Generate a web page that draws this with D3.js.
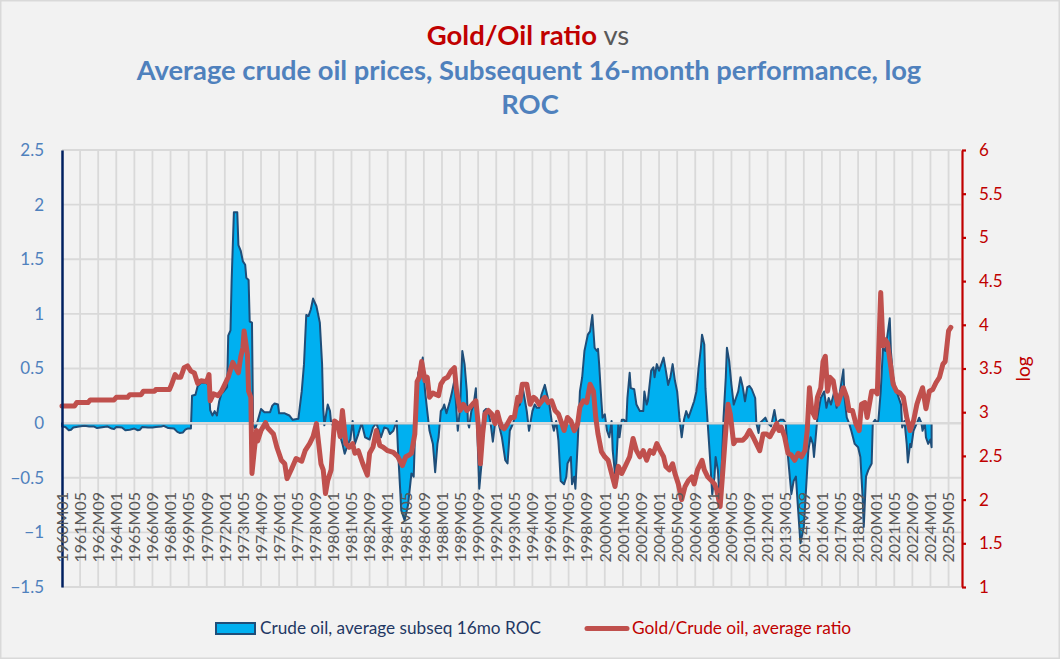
<!DOCTYPE html>
<html><head><meta charset="utf-8">
<script src="https://cdn.jsdelivr.net/npm/d3@7/dist/d3.min.js"></script>
<style>
body{margin:0;background:#F2F2F2;}
svg{display:block;font-family:Lato,"Liberation Sans",sans-serif;}
</style>
</head><body>
<svg id="chart" width="1060" height="659"></svg>
<script>
// ---- Category (tick) labels: every 16 months from 1960M01 ----
const tickLabels = ["1960M01","1961M05","1962M09","1964M01","1965M05","1966M09","1968M01","1969M05","1970M09","1972M01",
"1973M05","1974M09","1976M01","1977M05","1978M09","1980M01","1981M05","1982M09","1984M01","1985M05",
"1986M09","1988M01","1989M05","1990M09","1992M01","1993M05","1994M09","1996M01","1997M05","1998M09",
"2000M01","2001M05","2002M09","2004M01","2005M05","2006M09","2008M01","2009M05","2010M09","2012M01",
"2013M05","2014M09","2016M01","2017M05","2018M09","2020M01","2021M05","2022M09","2024M01","2025M05"];

// ---- Series 1: crude oil, average subsequent 16-month log ROC (months since 1960M01, value) ----
const rocMonth = [0,3,6,8,10,15,20,24,28,31,34,40,44,46,48,53,56,60,64,67,69,71,76,80,83,88,90,94,99,102,104,107,109,111,114,
115,118,120,123,128,130,131,133,135,137,139,141,143,146,147,149,150,152,155,156,158,160,162,163,165,166,168,169,171,173,176,179,184,186,188,191,192,197,201,204,209,
212,214,216,218,220,222,225,228,230,231,232,234,235,237,238,241,244,248,250,253,255,257,259,262,265,268,272,275,278,282,285,288,290,293,296,297,299,300,303,306,309,311,
313,315,318,319,321,323,325,328,330,332,333,335,337,338,340,343,345,347,350,352,354,356,358,359,360,362,364,366,367,369,371,373,375,377,379,381,383,384,386,389,392,394,396,399,
402,405,407,409,411,413,416,418,420,422,424,427,429,431,433,435,437,439,441,444,446,447,450,451,453,454,456,458,460,462,465,467,469,471,473,474,475,477,478,480,482,484,486,487,489,490,492,493,495,497,499,
500,502,503,506,508,511,514,515,517,518,521,523,524,526,528,530,532,534,536,538,540,542,544,546,548,550,552,554,557,559,561,563,565,566,568,569,571,573,575,577,578,580,581,583,585,587,588,590,592,594,596,598,
600,602,604,606,608,610,613,614,616,617,620,622,624,627,630,632,635,638,640,642,645,647,649,651,653,656,658,660,662,664,665,667,668,670,671,674,676,678,680,683,685,688,691,692,694,696,698,
701,704,706,708,709,711,713,716,717,719,721,722,724,726,728,730,732,733,735,737,739,742,743,745,747,748,750,751,753,756,758,760,761,763,764,766,768,769];
const rocValue = [-0.03,-0.035,-0.065,-0.06,-0.04,-0.03,-0.025,-0.03,-0.03,-0.045,-0.04,-0.03,-0.05,-0.055,-0.035,-0.04,-0.065,-0.06,-0.05,-0.065,-0.06,-0.035,-0.04,-0.04,-0.035,-0.03,-0.025,-0.045,-0.05,-0.08,-0.09,-0.085,-0.06,-0.05,-0.05,
0.25,0.26,0.34,0.37,0.37,0.33,0.12,0.07,0.11,0.07,0.2,0.27,0.29,0.33,0.8,0.85,1.3,1.93,1.93,1.63,1.58,1.48,1.45,1.33,1.31,0.93,0.92,-0.02,-0.05,0.02,0.13,0.10,0.10,0.16,0.18,0.17,0.09,0.09,0.07,0.03,0.04,
0.29,0.54,0.99,0.98,1.04,1.14,1.07,0.92,0.54,0.13,-0.02,0.11,0.17,0.11,0.0,-0.04,-0.05,-0.19,-0.28,-0.19,-0.15,0.02,-0.19,-0.10,0.0,-0.13,-0.15,-0.04,0.0,-0.13,-0.04,-0.05,-0.10,-0.07,0.02,-0.22,-0.60,-0.80,-0.89,-0.75,-0.46,-0.49,
0.17,0.46,0.54,0.60,0.30,0.11,-0.07,-0.19,-0.45,-0.19,-0.13,0.11,0.14,0.17,0.09,0.20,0.29,0.39,-0.07,0.14,0.66,0.54,0.29,0.0,-0.04,0.11,0.17,0.32,0.0,-0.60,-0.37,0.11,0.13,0.11,0.0,-0.17,0.0,0.05,0.0,-0.13,-0.34,-0.37,-0.07,0.0,
0.14,0.17,0.35,0.23,0.11,-0.07,0.11,0.17,0.14,0.14,0.26,0.35,0.26,0.17,0.02,-0.07,0.02,-0.16,-0.53,-0.56,-0.49,-0.37,-0.31,-0.56,-0.49,-0.60,-0.19,0.29,0.42,0.66,0.81,0.84,0.99,0.69,0.66,0.68,0.54,0.20,0.05,0.08,-0.07,-0.13,0.02,-0.25,-0.46,-0.40,0.0,-0.13,0.03,0.03,0.0,
0.23,0.46,0.32,0.31,0.17,0.11,0.11,0.29,0.17,0.20,0.48,0.51,0.42,0.54,0.48,0.54,0.60,0.48,0.35,0.42,0.54,0.39,0.29,0.05,-0.13,0.03,0.11,0.05,0.14,0.20,0.29,0.51,0.69,0.81,0.72,0.32,0.0,-0.31,-0.65,-0.49,-0.31,-0.43,-0.60,-0.52,0.05,0.42,0.69,0.57,0.35,0.17,0.23,0.29,
0.42,0.33,0.20,0.33,0.34,0.31,0.23,0.0,-0.09,0.0,0.03,0.05,0.0,-0.03,0.12,0.0,0.03,0.03,0.0,-0.31,-0.65,-0.53,-0.49,-0.80,-1.1,-0.95,-0.60,-0.25,-0.13,-0.19,-0.31,-0.07,0.05,0.17,0.23,0.29,0.14,0.23,0.17,0.29,0.14,0.29,0.49,0.23,0.05,0.0,-0.07,
-0.19,-0.22,-0.31,-0.68,-0.95,-0.49,-0.43,-0.37,0.0,0.03,0.0,0.03,0.29,0.69,0.66,0.81,0.96,0.66,0.42,0.32,0.26,0.17,-0.04,0.02,-0.19,-0.36,-0.19,-0.22,-0.07,0.0,0.05,0.0,-0.07,0.0,-0.13,-0.19,-0.15,-0.22];

// ---- Series 2: gold / crude oil, average ratio (months since 1960M01, value) ----
const ratioMonth = [0,11,13,23,25,46,48,58,60,70,72,82,83,95,97,100,102,105,108,111,114,117,120,123,128,130,131,134,138,141,144,147,151,154,156,158,160,161,164,165,167,168,170,172,173,176,180,182,187,190,194,197,199,
203,207,212,215,219,222,225,227,229,231,233,235,238,241,244,246,248,251,254,257,259,262,266,270,272,275,278,281,284,288,293,297,301,304,307,309,312,314,316,318,319,321,323,325,328,331,333,335,338,341,344,347,349,
352,355,358,361,363,366,368,370,372,374,377,380,383,385,387,389,391,394,397,400,403,405,407,411,414,417,419,422,427,430,433,436,439,442,444,447,450,453,456,458,461,464,467,470,472,474,477,480,483,486,489,492,495,498,
502,505,508,511,514,517,520,523,526,529,532,534,537,540,542,545,548,551,554,557,559,562,566,568,571,574,577,579,582,584,587,589,591,594,596,599,602,605,608,611,614,617,620,623,626,629,632,634,636,639,642,645,648,
651,654,657,659,661,663,666,668,671,673,675,677,679,682,684,686,689,691,694,696,699,702,705,707,710,712,716,719,721,723,724,726,728,730,733,735,738,741,744,747,750,753,756,758,761,764,767,770,773,776,779,781,784,786];
const ratioValue = [3.07,3.07,3.11,3.11,3.14,3.14,3.17,3.17,3.20,3.20,3.24,3.24,3.26,3.26,3.32,3.43,3.40,3.40,3.51,3.53,3.47,3.45,3.33,3.36,3.35,3.43,3.13,3.21,3.19,3.24,3.32,3.40,3.57,3.50,3.45,3.63,3.74,3.93,3.66,3.24,3.17,2.30,2.56,2.79,2.67,2.79,2.88,2.82,2.75,2.60,2.45,2.41,2.24,
2.35,2.47,2.44,2.56,2.64,2.72,2.87,2.64,2.41,2.34,2.07,2.22,2.34,2.90,2.87,2.72,3.02,2.64,2.60,2.64,2.53,2.56,2.41,2.28,2.53,2.60,2.79,2.62,2.60,2.56,2.54,2.49,2.39,2.49,2.51,2.53,2.75,3.35,3.40,3.58,3.51,3.36,3.40,3.17,3.22,3.20,3.19,3.32,3.38,3.40,3.47,3.51,3.24,
3.02,3.09,3.02,3.06,3.09,3.13,2.87,2.41,2.75,2.98,3.02,2.98,2.87,3.00,2.90,2.83,2.81,2.87,2.94,2.94,3.17,3.13,3.32,3.32,3.09,3.17,3.15,3.09,3.17,3.11,3.13,3.02,2.98,2.87,2.79,2.94,2.90,2.79,2.87,3.06,3.13,3.11,3.32,3.24,2.94,2.75,2.55,2.49,2.45,2.30,2.15,2.38,2.30,2.38,
2.49,2.70,2.56,2.49,2.56,2.45,2.56,2.53,2.64,2.56,2.49,2.38,2.34,2.41,2.30,2.18,2.00,2.15,2.22,2.26,2.18,2.34,2.45,2.34,2.26,2.22,2.18,2.11,1.92,2.26,2.79,3.09,2.98,2.64,2.68,2.68,2.68,2.72,2.79,2.72,2.64,2.56,2.75,2.75,2.72,2.79,2.87,2.79,2.83,2.72,2.53,2.51,2.45,
2.53,2.49,2.56,2.79,3.28,3.02,2.94,3.17,3.28,3.58,3.64,3.24,3.40,3.36,3.21,3.09,3.21,3.28,3.17,3.02,3.02,2.87,2.79,3.09,3.11,2.94,3.24,3.24,3.21,3.99,4.37,3.76,3.83,3.79,3.51,3.32,3.24,3.22,3.17,2.94,2.79,2.90,3.09,3.17,3.28,3.04,3.24,3.26,3.34,3.40,3.55,3.58,3.93,3.97];

const leftTicks = [-1.5,-1,-0.5,0,0.5,1,1.5,2,2.5];
const rightTicks = [1,1.5,2,2.5,3,3.5,4,4.5,5,5.5,6];
const seriesNames = ["Crude oil, average subseq 16mo ROC","Gold/Crude oil, average ratio"];

// ---- drawing ----
const svg = d3.select("#chart");
const W = 1060, H = 659;
const plot = {left:62, right:961, top:150, bottom:587};
const monthIndex = s => (+s.slice(0,4) - 1960) * 12 + (+s.slice(5) - 1);

const x = d3.scaleLinear().domain([0, 795]).range([plot.left, plot.right]);
const yL = d3.scaleLinear().domain([-1.5, 2.5]).range([plot.bottom, plot.top]);
const yR = d3.scaleLinear().domain([1, 6]).range([plot.bottom, plot.top]);

svg.append("rect").attr("x",0.75).attr("y",0.75).attr("width",W-1.5).attr("height",H-1.5)
  .attr("fill","#F2F2F2").attr("stroke","#D9D9D9").attr("stroke-width",1.5);

// gridlines
const grid = svg.append("g");
grid.selectAll("line.h").data(leftTicks).join("line")
  .attr("x1",plot.left).attr("x2",plot.right)
  .attr("y1",d=>yL(d)).attr("y2",d=>yL(d))
  .attr("stroke","#D9D9D9").attr("stroke-width",1.8);
grid.selectAll("line.v").data(tickLabels.slice(1)).join("line")
  .attr("x1",d=>x(monthIndex(d))).attr("x2",d=>x(monthIndex(d)))
  .attr("y1",plot.top).attr("y2",plot.bottom)
  .attr("stroke","#D9D9D9").attr("stroke-width",1.8);

// area series
const rocData = rocMonth.map((m,i)=>({m, v:rocValue[i]}));
const area = d3.area().x(d=>x(d.m)).y0(yL(0)).y1(d=>yL(d.v));
svg.append("path").datum(rocData).attr("d",area)
  .attr("fill","#00B0F0").attr("stroke","#1F4E79").attr("stroke-width",2).attr("stroke-linejoin","round");

// zero (category) axis line
svg.append("line").attr("x1",plot.left).attr("x2",plot.right).attr("y1",yL(0)).attr("y2",yL(0))
  .attr("stroke","#D9D9D9").attr("stroke-width",2.5);

// ratio line
const ratioData = ratioMonth.map((m,i)=>({m, v:ratioValue[i]}));
const line = d3.line().x(d=>x(d.m)).y(d=>yR(d.v));
svg.append("path").datum(ratioData).attr("d",line)
  .attr("fill","none").attr("stroke","#C0504D").attr("stroke-width",5)
  .attr("stroke-linejoin","round").attr("stroke-linecap","round");

// left axis
const gL = svg.append("g").attr("transform",`translate(${plot.left},0)`)
  .call(d3.axisLeft(yL).tickValues(leftTicks).tickSize(0).tickPadding(18).tickFormat(d3.format("")));
gL.select(".domain").attr("stroke","#002060").attr("stroke-width",2.5);
gL.selectAll("text").attr("fill","#4F81BD").attr("font-size",17).attr("font-family","Lato");

// right axis
const gR = svg.append("g").attr("transform",`translate(${plot.right+1},0)`)
  .call(d3.axisRight(yR).tickValues(rightTicks).tickSizeInner(4).tickSizeOuter(0).tickPadding(13).tickFormat(d3.format("")));
gR.select(".domain").attr("stroke","#C00000").attr("stroke-width",2.2);
gR.selectAll(".tick line").attr("stroke","#C00000").attr("stroke-width",2.2);
gR.selectAll("text").attr("fill","#C00000").attr("font-size",17).attr("font-family","Lato");

// x category labels (rotated, inside plot)
svg.append("g").selectAll("text").data(tickLabels).join("text")
  .attr("transform",d=>`translate(${x(monthIndex(d))},492) rotate(-90)`)
  .attr("text-anchor","end").attr("dy","0.36em")
  .attr("fill","#595959").attr("font-size",16).text(d=>d);

// right axis title
svg.append("text").attr("transform","translate(1023,369) rotate(-90)")
  .attr("text-anchor","middle").attr("dy","0.35em")
  .attr("fill","#C00000").attr("font-size",19).text("log");

// title
const t1 = svg.append("text").attr("x",528).attr("y",45).attr("text-anchor","middle").attr("font-size",27.5);
t1.append("tspan").attr("fill","#C00000").attr("font-weight","bold").text("Gold/Oil ratio");
t1.append("tspan").attr("fill","#595959").text(" vs");
svg.append("text").attr("x",529).attr("y",80).attr("text-anchor","middle").attr("font-size",27.3)
  .attr("font-weight","bold").attr("fill","#4F81BD").text("Average crude oil prices, Subsequent 16-month performance, log");
svg.append("text").attr("x",530).attr("y",114).attr("text-anchor","middle").attr("font-size",27.3)
  .attr("font-weight","bold").attr("fill","#4F81BD").text("ROC");

// legend
const lg = svg.append("g");
lg.append("rect").attr("x",216).attr("y",623).attr("width",39).attr("height",11)
  .attr("fill","#00B0F0").attr("stroke","#1F4E79").attr("stroke-width",2);
lg.append("text").attr("x",260).attr("y",634).attr("fill","#1F3864").attr("font-size",17.2).text(seriesNames[0]);
lg.append("line").attr("x1",587).attr("x2",627).attr("y1",628.5).attr("y2",628.5)
  .attr("stroke","#C0504D").attr("stroke-width",5).attr("stroke-linecap","round");
lg.append("text").attr("x",632).attr("y",634).attr("fill","#C00000").attr("font-size",17.3).text(seriesNames[1]);
</script>
</body></html>
